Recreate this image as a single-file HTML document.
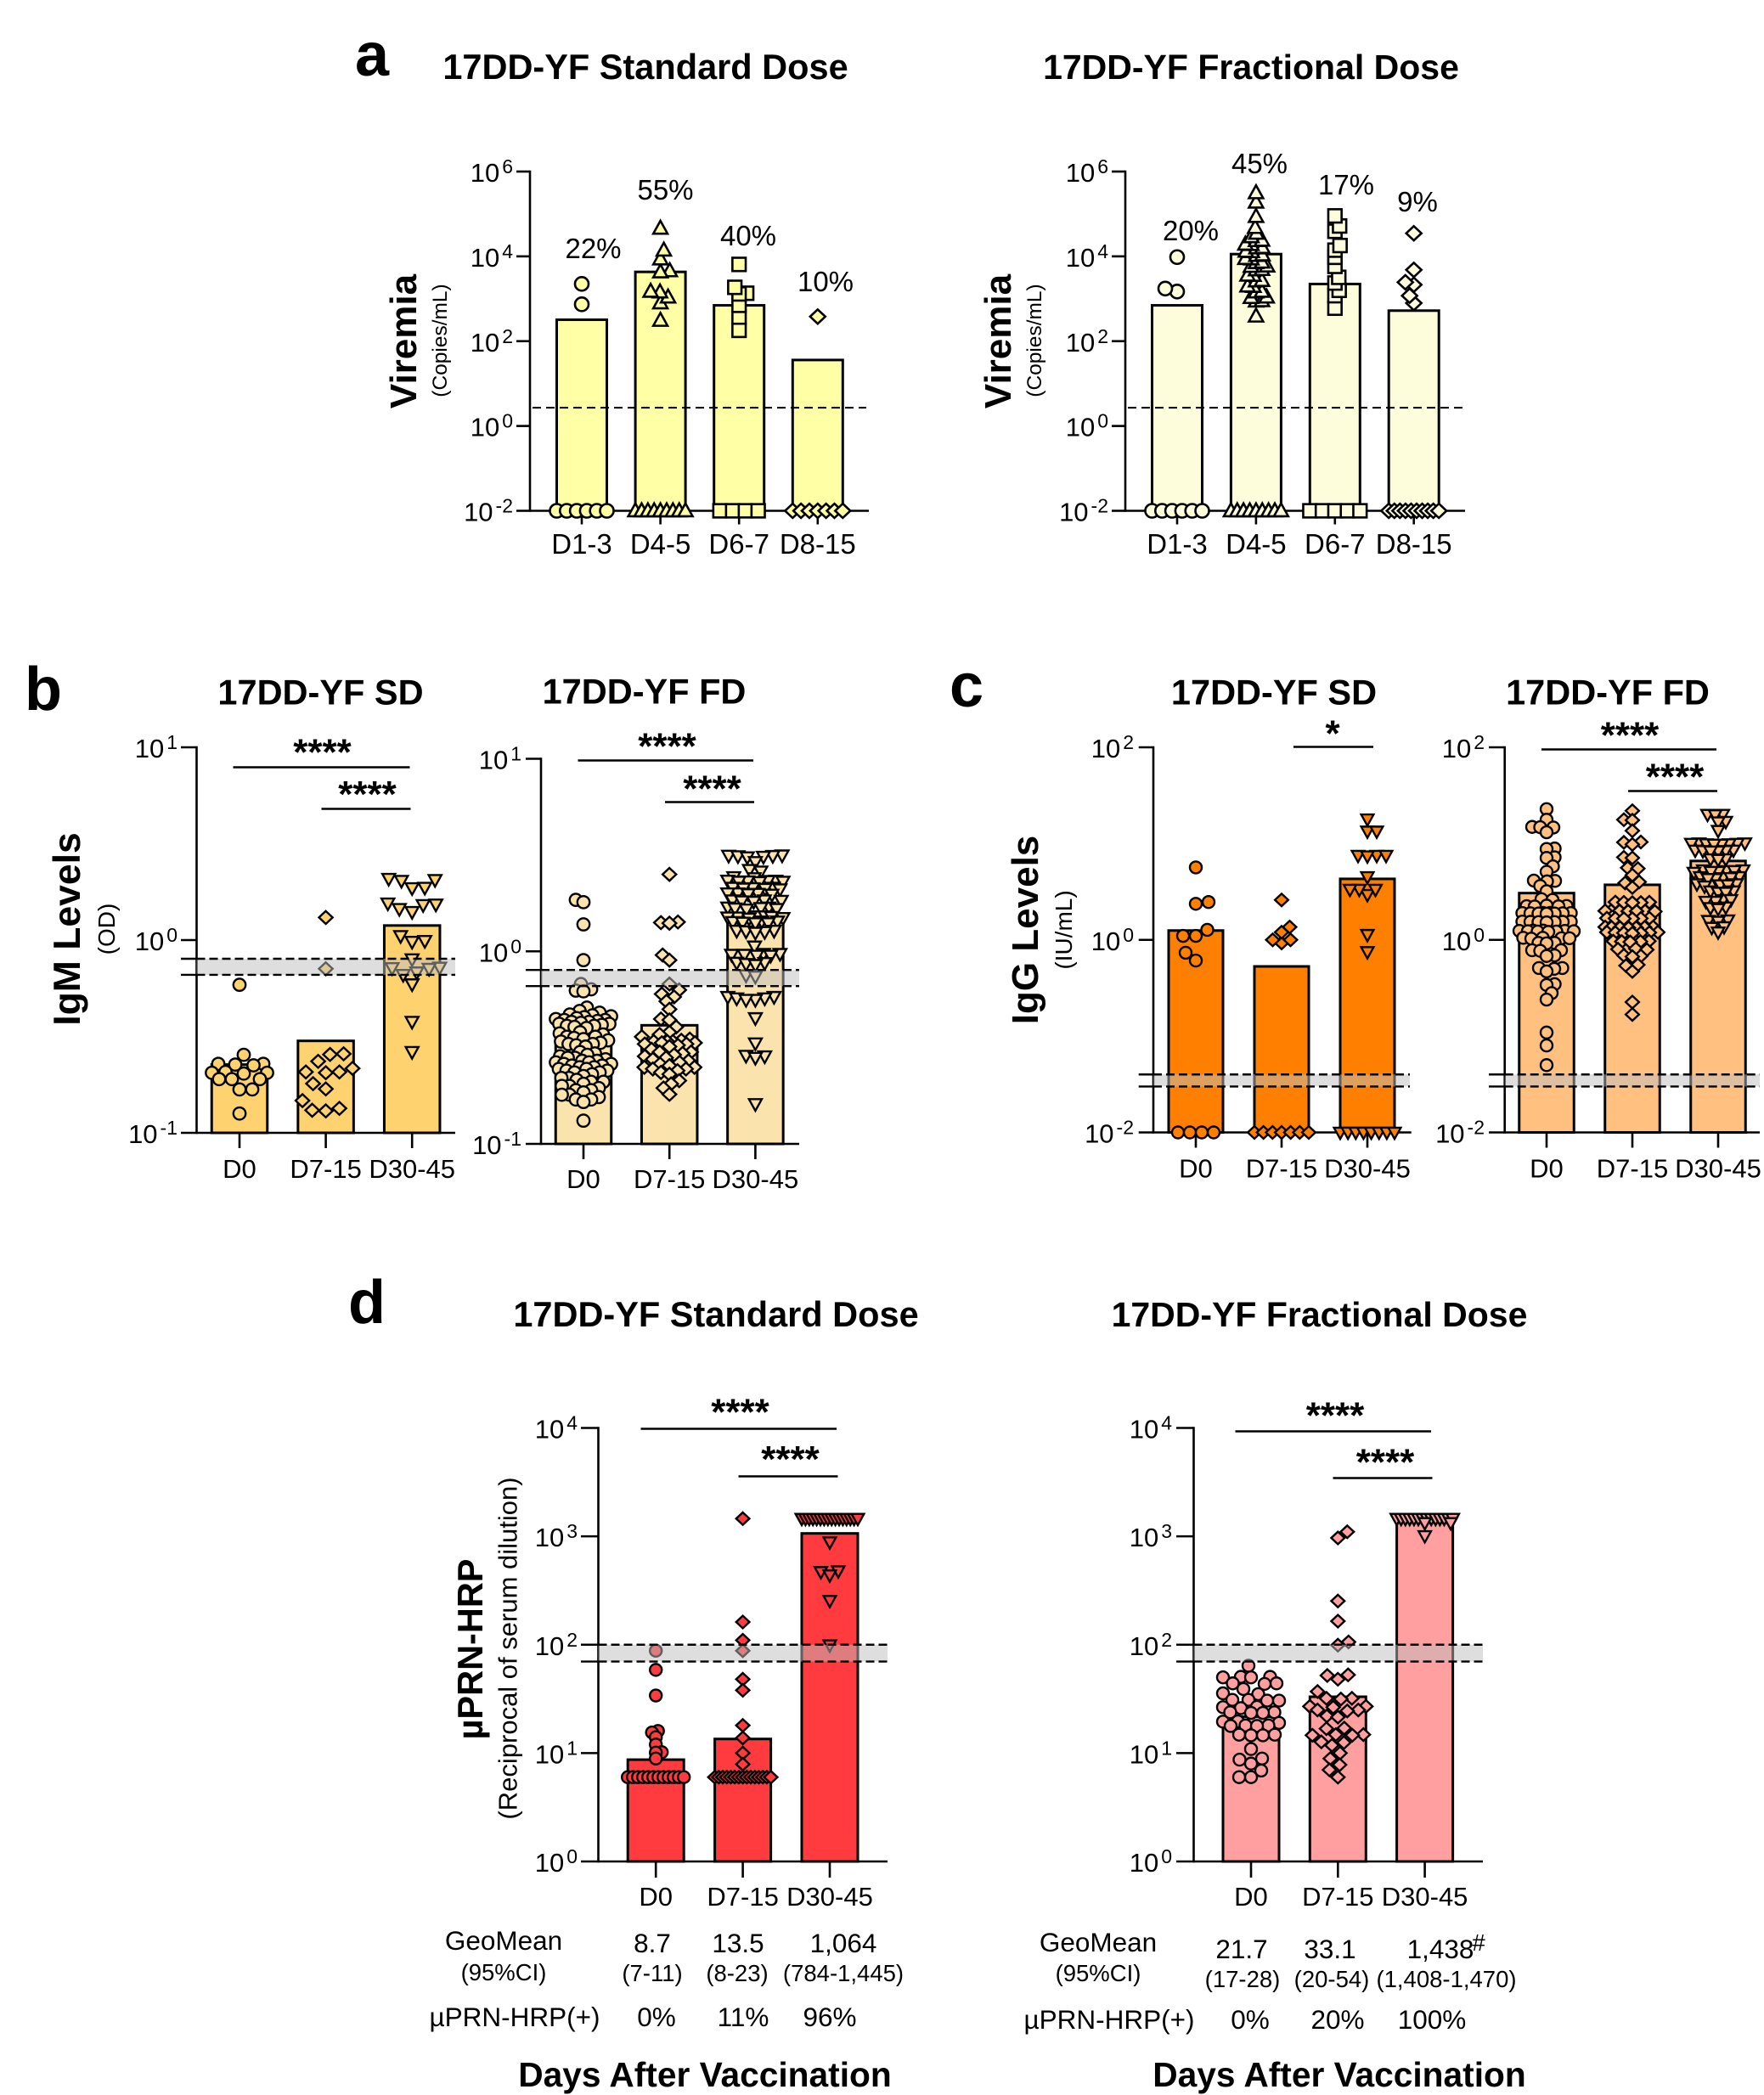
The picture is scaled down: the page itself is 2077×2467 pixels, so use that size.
<!DOCTYPE html>
<html lang="en">
<head>
<meta charset="utf-8">
<title>17DD-YF viremia and antibody responses</title>
<style>
html,body{margin:0;padding:0;background:#fff;}
svg{display:block;}
text{font-family:"Liberation Sans",Arial,sans-serif;fill:#000;}
.panel-letter{font-size:72px;font-weight:bold;}
.title{font-size:41.5px;font-weight:bold;text-anchor:middle;}
.title-f{font-size:41px;font-weight:bold;text-anchor:middle;}
.ylab{font-size:44.5px;font-weight:bold;text-anchor:middle;}
.ysub{font-size:28px;text-anchor:middle;}
.pct{font-size:33px;text-anchor:middle;}
.star{font-size:44px;font-weight:bold;text-anchor:middle;}
.tbl{font-size:31.5px;text-anchor:middle;}
.tbls{font-size:27.5px;text-anchor:middle;}
.days{font-size:40.7px;font-weight:bold;text-anchor:middle;}
.brk{stroke:#000;stroke-width:2.6;}
</style>
</head>
<body>
<svg id="figure" xmlns="http://www.w3.org/2000/svg" width="2077" height="2467" viewBox="0 0 2077 2467">
<rect width="2077" height="2467" fill="#fff"/>

<g id="layer-charts"></g>

<g>
<text class="panel-letter" x="418" y="89">a</text>
<text class="title" x="760" y="93">17DD-YF Standard Dose</text>
<text class="title-f" x="1473" y="93">17DD-YF Fractional Dose</text>
<text class="ylab" style="font-size:44px" transform="translate(490,402) rotate(-90)">Viremia</text>
<text class="ysub" style="font-size:24.5px" transform="translate(526,401) rotate(-90)">(Copies/mL)</text>
<text class="ylab" style="font-size:44px" transform="translate(1190,402) rotate(-90)">Viremia</text>
<text class="ysub" style="font-size:24.5px" transform="translate(1226,401) rotate(-90)">(Copies/mL)</text>
<text class="pct" x="698.5" y="304">22%</text>
<text class="pct" x="783.5" y="235">55%</text>
<text class="pct" x="881" y="289">40%</text>
<text class="pct" x="972" y="343">10%</text>
<text class="pct" x="1402" y="283">20%</text>
<text class="pct" x="1483" y="204">45%</text>
<text class="pct" x="1585" y="229">17%</text>
<text class="pct" x="1669" y="249">9%</text>
</g>

<g>
<text class="panel-letter" x="29" y="836">b</text>
<text class="title" x="377.5" y="829.5">17DD-YF SD</text>
<text class="title" x="758.5" y="828.5">17DD-YF FD</text>
<text class="ylab" transform="translate(94,1094) rotate(-90)">IgM Levels</text>
<text class="ysub" transform="translate(135,1094) rotate(-90)">(OD)</text>
<line class="brk" x1="274.5" x2="482.5" y1="903.5" y2="903.5"/>
<text class="star" x="379.5" y="900.5">****</text>
<line class="brk" x1="378.5" x2="483.5" y1="952.5" y2="952.5"/>
<text class="star" x="432.5" y="950">****</text>
<line class="brk" x1="680.5" x2="887" y1="895.5" y2="895.5"/>
<text class="star" x="785.5" y="893.5">****</text>
<line class="brk" x1="783" x2="888" y1="944.5" y2="944.5"/>
<text class="star" x="838.5" y="943.5">****</text>
</g>

<g>
<text class="panel-letter" x="1118" y="832">c</text>
<text class="title" x="1500" y="829.5">17DD-YF SD</text>
<text class="title" x="1893" y="829.5">17DD-YF FD</text>
<text class="ylab" style="font-size:44px" transform="translate(1222,1095) rotate(-90)">IgG Levels</text>
<text class="ysub" transform="translate(1262,1095) rotate(-90)">(IU/mL)</text>
<line class="brk" x1="1523" x2="1617" y1="879.5" y2="879.5"/>
<text class="star" x="1569" y="878.5">*</text>
<line class="brk" x1="1815" x2="2021" y1="882.5" y2="882.5"/>
<text class="star" x="1919" y="880.5">****</text>
<line class="brk" x1="1917" x2="2022" y1="931.5" y2="931.5"/>
<text class="star" x="1972" y="929.5">****</text>
</g>

<g>
<text class="panel-letter" x="410" y="1558">d</text>
<text class="title" x="843" y="1562">17DD-YF Standard Dose</text>
<text class="title-f" x="1553.5" y="1562">17DD-YF Fractional Dose</text>
<text class="ylab" style="font-size:41.5px" transform="translate(568,1942) rotate(-90)">µPRN-HRP</text>
<text class="ysub" style="font-size:31px" transform="translate(608.5,1941) rotate(-90)">(Reciprocal of serum dilution)</text>
<line class="brk" x1="754.5" x2="985" y1="1682.5" y2="1682.5"/>
<text class="star" x="871.5" y="1677.5">****</text>
<line class="brk" x1="869.5" x2="986.5" y1="1738.5" y2="1738.5"/>
<text class="star" x="930.5" y="1733">****</text>
<line class="brk" x1="1454.5" x2="1685" y1="1685.5" y2="1685.5"/>
<text class="star" x="1572" y="1681.5">****</text>
<line class="brk" x1="1569.5" x2="1686.5" y1="1740.5" y2="1740.5"/>
<text class="star" x="1631" y="1736.5">****</text>

<g>
<text class="tbl" x="593" y="2296">GeoMean</text>
<text class="tbls" x="593" y="2332">(95%CI)</text>
<text class="tbl" x="606" y="2386">µPRN-HRP(+)</text>
<text class="tbl" x="768" y="2299">8.7</text>
<text class="tbl" x="869" y="2299">13.5</text>
<text class="tbl" x="993" y="2299">1,064</text>
<text class="tbls" x="768" y="2333">(7-11)</text>
<text class="tbls" x="868" y="2333">(8-23)</text>
<text class="tbls" x="993" y="2333">(784-1,445)</text>
<text class="tbl" x="773" y="2386">0%</text>
<text class="tbl" x="875" y="2386">11%</text>
<text class="tbl" x="977" y="2386">96%</text>
<text class="days" x="830" y="2457">Days After Vaccination</text>
</g>
<g>
<text class="tbl" x="1293" y="2298">GeoMean</text>
<text class="tbls" x="1293" y="2333">(95%CI)</text>
<text class="tbl" x="1306" y="2389">µPRN-HRP(+)</text>
<text class="tbl" x="1462" y="2306">21.7</text>
<text class="tbl" x="1566" y="2306">33.1</text>
<text class="tbl" x="1696" y="2306">1,438</text>
<text class="tbls" x="1741" y="2297">#</text>
<text class="tbls" x="1463" y="2340">(17-28)</text>
<text class="tbls" x="1568" y="2340">(20-54)</text>
<text class="tbls" x="1703" y="2340">(1,408-1,470)</text>
<text class="tbl" x="1472" y="2389">0%</text>
<text class="tbl" x="1575" y="2389">20%</text>
<text class="tbl" x="1686" y="2389">100%</text>
<text class="days" x="1577" y="2457">Days After Vaccination</text>
</g>
</g>
</svg>

<script>
/* ---------- shared categories and tick labels ---------- */
const viremiaCategories = ['D1-3', 'D4-5', 'D6-7', 'D8-15'];
const antibodyCategories = ['D0', 'D7-15', 'D30-45'];
const viremiaTicks = [0.01, 1, 100, 10000, 1000000];
const igmTicks = [0.1, 1, 10];
const iggTicks = [0.01, 1, 100];
const prnTicks = [1, 10, 100, 1000, 10000];
const viremiaCutoff = [2.7];
const igmBand = [0.8, 0.66];
const iggBand = [0.04, 0.03];
const prnBand = [100, 70];

/* ---------- panel a, standard dose ---------- */
const viremiaSdBars = [320, 4300, 700, 36];
const viremiaSdD1 = [0.01, 0.01, 0.01, 0.01, 0.01, 0.01, 740, 2240];
const viremiaSdD4 = [0.01, 0.01, 0.01, 0.01, 0.01, 0.01, 0.01, 0.01, 0.01, 310, 800, 1100, 1450, 1500, 4570, 4300, 8700, 14000, 46000];
const viremiaSdD6 = [0.01, 0.01, 0.01, 0.01, 180, 370, 700, 1350, 1300, 1860, 6460];
const viremiaSdD8 = [0.01, 0.01, 0.01, 0.01, 0.01, 0.01, 0.01, 380];

/* ---------- panel a, fractional dose ---------- */
const viremiaFdBars = [700, 11300, 2230, 525];
const viremiaFdD1 = [0.01, 0.01, 0.01, 0.01, 0.01, 0.01, 1480, 1740, 9600];
const viremiaFdD4 = [0.01, 0.01, 0.01, 0.01, 0.01, 0.01, 0.01, 0.01, 0.01, 390, 880, 900, 1070, 1100, 1450, 1500, 1950, 2000, 2640, 2700, 3560, 3600, 4800, 4900, 5800, 5900, 7100, 7300, 8700, 8900, 10500, 10800, 12900, 13200, 15800, 16200, 19000, 19400, 23500, 24000, 29000, 35000, 48000, 87000, 190000, 316000];
const viremiaFdD6 = [0.01, 0.01, 0.01, 0.01, 0.01, 600, 1180, 1580, 2350, 3200, 5800, 9500, 14000, 18000, 39000, 52000, 90000];
const viremiaFdD8 = [0.01, 0.01, 0.01, 0.01, 0.01, 0.01, 0.01, 0.01, 0.01, 0.01, 790, 1180, 2140, 2450, 4800, 35000];

/* ---------- panel b, IgM ---------- */
const igmSdBars = [0.226, 0.30, 1.19];
const igmSdD0 = [0.586, 0.254, 0.228, 0.228, 0.226, 0.224, 0.207, 0.205, 0.205, 0.203, 0.19, 0.19, 0.19, 0.168, 0.168, 0.126];
const igmSdD7 = [1.31, 0.71, 0.257, 0.255, 0.235, 0.216, 0.207, 0.207, 0.205, 0.18, 0.169, 0.147, 0.134, 0.131, 0.13];
const igmSdD30 = [2.08, 2.05, 2.03, 1.87, 1.86, 1.55, 1.53, 1.52, 1.45, 1.40, 1.05, 0.99, 0.98, 0.795, 0.72, 0.716, 0.71, 0.68, 0.66, 0.59, 0.377, 0.263];

const igmFdBars = [0.359, 0.413, 1.455];
const igmFdD0 = [1.85, 1.8, 1.38, 0.90, 0.676, 0.635, 0.625, 0.62, 0.51, 0.49, 0.48, 0.47, 0.465, 0.46, 0.455, 0.45, 0.445, 0.44, 0.44, 0.435, 0.43, 0.43, 0.425, 0.42, 0.42, 0.415, 0.41, 0.41, 0.405, 0.40, 0.38, 0.375, 0.37, 0.36, 0.36, 0.355, 0.35, 0.345, 0.34, 0.335, 0.33, 0.33, 0.325, 0.32, 0.30, 0.295, 0.29, 0.285, 0.28, 0.28, 0.275, 0.27, 0.27, 0.265, 0.265, 0.26, 0.26, 0.255, 0.255, 0.25, 0.25, 0.245, 0.245, 0.24, 0.24, 0.235, 0.235, 0.23, 0.225, 0.22, 0.22, 0.215, 0.21, 0.21, 0.205, 0.20, 0.20, 0.195, 0.19, 0.19, 0.185, 0.18, 0.18, 0.175, 0.17, 0.17, 0.165, 0.132];
const igmFdD7 = [2.51, 1.42, 1.41, 1.40, 0.957, 0.9, 0.676, 0.63, 0.6, 0.58, 0.55, 0.5, 0.445, 0.44, 0.405, 0.38, 0.37, 0.36, 0.35, 0.345, 0.34, 0.34, 0.34, 0.335, 0.335, 0.33, 0.33, 0.325, 0.32, 0.31, 0.30, 0.30, 0.295, 0.29, 0.285, 0.28, 0.275, 0.27, 0.265, 0.26, 0.255, 0.25, 0.25, 0.245, 0.245, 0.24, 0.235, 0.23, 0.213, 0.205, 0.195, 0.181];
const igmFdD30 = [3.15, 3.14, 3.13, 3.12, 3.1, 3.08, 2.91, 2.65, 2.6, 2.43, 2.4, 2.33, 2.33, 2.32, 2.31, 2.3, 2.3, 2.29, 2.14, 2.14, 2.13, 2.12, 2.11, 2.1, 2.0, 2.0, 1.99, 1.98, 1.97, 1.84, 1.84, 1.83, 1.82, 1.81, 1.69, 1.69, 1.68, 1.67, 1.66, 1.65, 1.52, 1.52, 1.51, 1.5, 1.5, 1.49, 1.48, 1.43, 1.43, 1.42, 1.41, 1.4, 1.4, 1.28, 1.28, 1.27, 1.26, 1.25, 1.06, 0.97, 0.97, 0.96, 0.96, 0.95, 0.95, 0.873, 0.87, 0.86, 0.85, 0.75, 0.74, 0.58, 0.58, 0.57, 0.57, 0.56, 0.56, 0.45, 0.333, 0.287, 0.285, 0.28, 0.161];

/* ---------- panel c, IgG ---------- */
const iggSdBars = [1.25, 0.53, 4.3];
const iggSdD0 = [0.01, 0.01, 0.01, 0.01, 0.61, 0.735, 1.1, 1.1, 1.27, 2.37, 2.47, 5.66];
const iggSdD7 = [0.01, 0.01, 0.01, 0.01, 0.01, 0.01, 0.01, 0.93, 1.0, 1.0, 1.2, 1.36, 2.6];
const iggSdD30 = [0.01, 0.01, 0.01, 0.01, 0.01, 0.01, 0.01, 0.01, 0.75, 1.13, 2.94, 3.33, 3.33, 3.33, 4.5, 7.5, 7.5, 7.5, 7.4, 13.4, 13.4, 17.9];

const iggFdBars = [3.06, 3.73, 6.6];
const iggFdD0 = [22.8, 17.7, 14.9, 14.8, 14.7, 13.1, 8.9, 8.8, 7.2, 7.1, 5.8, 5.1, 4.13, 4.1, 4.05, 3.63, 3.2, 2.65, 2.6, 2.27, 2.25, 2.24, 2.23, 2.22, 1.91, 1.91, 1.9, 1.9, 1.89, 1.89, 1.88, 1.88, 1.87, 1.55, 1.55, 1.54, 1.54, 1.53, 1.53, 1.52, 1.25, 1.25, 1.24, 1.24, 1.23, 1.23, 1.22, 1.22, 1.21, 1.05, 1.05, 1.04, 1.04, 1.03, 0.93, 0.93, 0.92, 0.78, 0.78, 0.77, 0.69, 0.68, 0.51, 0.51, 0.5, 0.47, 0.347, 0.34, 0.28, 0.24, 0.109, 0.08, 0.05];
const iggFdD7 = [21.9, 17.7, 17.5, 13.6, 10.4, 10.3, 9.8, 7.2, 7.1, 5.6, 5.5, 4.7, 4.0, 3.9, 3.5, 2.47, 2.46, 2.45, 2.44, 2.43, 2.0, 2.0, 1.99, 1.99, 1.98, 1.98, 1.97, 1.68, 1.68, 1.67, 1.67, 1.66, 1.66, 1.36, 1.36, 1.35, 1.35, 1.34, 1.34, 1.33, 1.2, 1.2, 1.19, 1.19, 1.18, 1.18, 1.17, 0.97, 0.97, 0.96, 0.96, 0.95, 0.81, 0.8, 0.79, 0.69, 0.68, 0.67, 0.55, 0.54, 0.47, 0.226, 0.168];
const iggFdD30 = [20, 20, 19.8, 16.9, 16.7, 13.6, 10.1, 10.1, 10, 10, 9.9, 9.9, 9.8, 9.8, 8.5, 8.5, 8.4, 8.4, 8.3, 8.3, 6.9, 6.9, 6.8, 5.3, 5.3, 5.2, 5.2, 5.1, 5.1, 5.0, 4.5, 4.5, 4.4, 4.4, 4.3, 4.3, 3.8, 3.8, 3.7, 3.7, 3.6, 3.2, 3.2, 3.1, 3.1, 2.6, 2.6, 2.5, 2.5, 2.18, 2.15, 2.1, 1.6, 1.58, 1.55, 1.36, 1.34, 1.2];

/* ---------- panel d, uPRN-HRP ---------- */
const prnSdBars = [8.7, 13.5, 1064];
const prnSdD0 = [88, 58.6, 34, 16, 15.5, 14, 12, 10.2, 10.1, 8.9, 6, 6, 6, 6, 6, 6, 6, 6, 6, 6, 6, 6];
const prnSdD7 = [1456, 162, 110, 88, 48, 38, 18, 13.8, 10, 7.9, 6, 6, 6, 6, 6, 6, 6, 6, 6, 6, 6, 6, 6, 6, 6];
const prnSdD30 = [1456, 1456, 1456, 1456, 1456, 1456, 1456, 1456, 1456, 1456, 1456, 1456, 1456, 1456, 1456, 1456, 885, 478, 470, 438, 255, 99];

const prnFdBars = [21.7, 33.1, 1438];
const prnFdD0 = [64, 50.5, 50.5, 50, 50, 44, 44, 43.5, 39, 35.6, 35, 31, 31, 30.5, 30.5, 26.7, 26.5, 26, 23.8, 23.8, 23.5, 23.5, 19.6, 19.5, 19, 18, 18, 17.8, 17.8, 14.8, 14.8, 14.6, 14.6, 10.9, 8.9, 8.7, 8, 6.9, 6, 6];
const prnFdD7 = [1101, 966, 253, 165, 106, 99, 52.7, 52, 48, 37, 32, 32, 31.5, 27, 27, 26.5, 25, 25, 24.5, 22, 21.5, 17, 16.8, 14.8, 14.8, 14.6, 14.6, 12.7, 12.5, 11.8, 10, 8.9, 7.8, 7, 6];
const prnFdD30 = [1456, 1456, 1456, 1456, 1456, 1456, 1456, 1456, 1456, 1456, 1456, 1456, 1456, 1456, 1330, 1330, 1009];

/* ---------- drawing helpers ---------- */
const SVG_NS = 'http://www.w3.org/2000/svg';
const chartLayer = document.getElementById('layer-charts');

function make(parent, tag, attrs) {
  const el = document.createElementNS(SVG_NS, tag);
  for (const k in attrs) el.setAttribute(k, attrs[k]);
  parent.appendChild(el);
  return el;
}

function logScale(domainMin, domainMax, pxBottom, pxTop) {
  const lo = Math.log10(domainMin);
  const hi = Math.log10(domainMax);
  return function (v) {
    return pxBottom - (Math.log10(v) - lo) / (hi - lo) * (pxBottom - pxTop);
  };
}

/* Beeswarm layout: long rows of identical values are spread evenly, every
   other point takes the offset nearest the centre that keeps its distance. */
function swarmOffsets(vals, pys, gap, tieGap, maxW) {
  const out = new Array(vals.length).fill(null);
  const placed = [];
  const ties = new Map();
  vals.forEach(function (v, i) {
    if (!ties.has(v)) ties.set(v, []);
    ties.get(v).push(i);
  });
  ties.forEach(function (row) {
    if (row.length < 4) return;
    const n = row.length;
    const s = Math.min(tieGap, maxW / (n - 1));
    row.forEach(function (idx, j) {
      out[idx] = (j - (n - 1) / 2) * s;
      placed.push([out[idx], pys[idx]]);
    });
  });
  const order = vals.map(function (v, i) { return i; })
    .filter(function (i) { return out[i] === null; })
    .sort(function (a, b) { return pys[b] - pys[a]; });
  order.forEach(function (idx, turn) {
    const sign = turn % 2 === 0 ? 1 : -1;
    let best = 0;
    let bestDist = -1;
    let chosen = null;
    for (let k = 0; k <= maxW / 2 && chosen === null; k += 0.5) {
      [sign * k, -sign * k].forEach(function (off) {
        if (chosen !== null) return;
        let minD = Infinity;
        placed.forEach(function (p) {
          const d = Math.hypot(p[0] - off, p[1] - pys[idx]);
          if (d < minD) minD = d;
        });
        if (minD >= gap) chosen = off;
        else if (minD > bestDist) { bestDist = minD; best = off; }
      });
    }
    out[idx] = chosen !== null ? chosen : best;
    placed.push([out[idx], pys[idx]]);
  });
  return out;
}

function drawMarker(parent, shape, cx, cy, r, fill, sw) {
  const style = { fill: fill, stroke: '#000', 'stroke-width': sw, 'stroke-linejoin': 'miter' };
  let el;
  if (shape === 'circle') {
    el = make(parent, 'circle', Object.assign({ cx: cx, cy: cy, r: r }, style));
  } else if (shape === 'square') {
    const h = r * 0.98;
    el = make(parent, 'rect', Object.assign({ x: cx - h, y: cy - h, width: 2 * h, height: 2 * h }, style));
  } else {
    let pts;
    if (shape === 'diamond') {
      pts = [[cx, cy - r * 1.05], [cx + r * 1.12, cy], [cx, cy + r * 1.05], [cx - r * 1.12, cy]];
    } else if (shape === 'up') {
      pts = [[cx, cy - r * 1.1], [cx + r * 1.05, cy + r * 0.8], [cx - r * 1.05, cy + r * 0.8]];
    } else {
      pts = [[cx, cy + r * 1.1], [cx + r * 1.05, cy - r * 0.8], [cx - r * 1.05, cy - r * 0.8]];
    }
    el = make(parent, 'polygon', Object.assign({ points: pts.map(function (p) { return p.join(','); }).join(' ') }, style));
  }
  return el;
}

function drawPanel(cfg, categories, ticks, bars, groups) {
  const g = make(chartLayer, 'g', {});
  
  

  const y = logScale(ticks[0], ticks[ticks.length - 1], cfg.yBot, cfg.yTop);
  const x = function (i) { return cfg.c0 + i * cfg.step; };

  /* bars */
  bars.forEach(function (v, i) {
    const top = y(v);
    const bar = make(g, 'rect', {
      x: x(i) - cfg.barW / 2, y: top, width: cfg.barW, height: cfg.yBot - top,
      fill: cfg.fill, stroke: '#000', 'stroke-width': 3
    });
    
    
  });

  /* y axis and ticks */
  const yAxis = make(g, 'line', { x1: cfg.axisX, x2: cfg.axisX, y1: cfg.yTop - 1.3, y2: cfg.yBot + 1.3, stroke: '#000', 'stroke-width': 2.6 });
  
  
  ticks.forEach(function (t) {
    const py = y(t);
    const tick = make(g, 'line', { x1: cfg.tickL, x2: cfg.axisX, y1: py, y2: py, stroke: '#000', 'stroke-width': 2.6 });
    
    
    const label = make(g, 'text', { x: cfg.tickLabelR, y: py + 12, 'text-anchor': 'end', 'font-size': 31 });
    
    
    const base = make(label, 'tspan', {});
    base.textContent = '10';
    const sup = make(label, 'tspan', { dx: 3, dy: -10, 'font-size': 23 });
    sup.textContent = String(Math.round(Math.log10(t)));
  });

  /* x axis, ticks, labels */
  const xAxis = make(g, 'line', { x1: cfg.axisX, x2: cfg.xEnd, y1: cfg.yBot, y2: cfg.yBot, stroke: '#000', 'stroke-width': 2.6 });
  
  
  categories.forEach(function (c, i) {
    const tick = make(g, 'line', { x1: x(i), x2: x(i), y1: cfg.yBot, y2: cfg.yBot + cfg.tickH, stroke: '#000', 'stroke-width': 2.6 });
    
    
    const label = make(g, 'text', { x: x(i), y: cfg.catY, 'text-anchor': 'middle', 'font-size': cfg.catSize });
    
    
    label.textContent = c;
  });

  /* points */
  groups.forEach(function (vals, i) {
    const pys = vals.map(y);
    const offs = swarmOffsets(vals, pys, cfg.gaps[i], cfg.tieGap, cfg.barW);
    const shape = cfg.shapes[i];
    vals.forEach(function (v, j) {
      const m = drawMarker(g, shape, x(i) + offs[j], pys[j], cfg.r, cfg.fill, cfg.sw);
      
      
    });
  });

  /* single dashed detection limit */
  if (cfg.cutoff) {
    const py = y(cfg.cutoff[0]);
    const limit = make(g, 'line', { x1: cfg.axisX + 3, x2: cfg.xEnd - 3, y1: py, y2: py, stroke: '#000', 'stroke-width': 2, 'stroke-dasharray': '10 6' });
    
    
  }

  /* shaded seropositivity band */
  if (cfg.band) {
    const yHi = y(cfg.band[0]);
    const yLo = y(cfg.band[1]);
    const band = make(g, 'rect', { x: cfg.axisX, y: yHi, width: cfg.bandEnd - cfg.axisX, height: yLo - yHi, fill: 'rgb(190,190,190)', 'fill-opacity': 0.5 });
    
    
    [yHi, yLo].forEach(function (py) {
      const dash = make(g, 'line', { x1: cfg.axisX, x2: cfg.bandEnd, y1: py, y2: py, stroke: '#000', 'stroke-width': 2.4, 'stroke-dasharray': '10 5' });
      
      
      const stub = make(g, 'line', { x1: cfg.tickL, x2: cfg.axisX, y1: py, y2: py, stroke: '#000', 'stroke-width': 2.4 });
      
      
    });
  }
}

/* ---------- panels ---------- */
const vShapes = ['circle', 'up', 'square', 'diamond'];
const abShapes = ['circle', 'diamond', 'down'];

drawPanel({ axisX: 624, tickL: 608, tickLabelR: 604, xEnd: 1023, yTop: 202, yBot: 601.5, c0: 685, step: 92.6, barW: 59, tickH: 16, catY: 652, catSize: 33, fill: '#FFFFA6', shapes: vShapes, r: 8, sw: 2.6, gaps: [14, 11, 9, 14], tieGap: 15 , cutoff: viremiaCutoff }, viremiaCategories, viremiaTicks, viremiaSdBars, [viremiaSdD1, viremiaSdD4, viremiaSdD6, viremiaSdD8]);

drawPanel({ axisX: 1325, tickL: 1309, tickLabelR: 1305, xEnd: 1725, yTop: 202, yBot: 601.5, c0: 1386, step: 92.9, barW: 59, tickH: 16, catY: 652, catSize: 33, fill: '#FDFDDC', shapes: vShapes, r: 8, sw: 2.6, gaps: [14, 7, 8, 10], tieGap: 15, cutoff: viremiaCutoff }, viremiaCategories, viremiaTicks, viremiaFdBars, [viremiaFdD1, viremiaFdD4, viremiaFdD6, viremiaFdD8]);

drawPanel({ axisX: 231.5, tickL: 213, tickLabelR: 209, xEnd: 536, bandEnd: 536, yTop: 880, yBot: 1334, c0: 282, step: 101.6, barW: 65.5, tickH: 18, catY: 1387, catSize: 31, fill: '#FFD270', shapes: abShapes, r: 7.2, sw: 2.4, gaps: [15, 16, 15], tieGap: 14, band: igmBand }, antibodyCategories, igmTicks, igmSdBars, [igmSdD0, igmSdD7, igmSdD30]);

drawPanel({ axisX: 637, tickL: 619, tickLabelR: 614, xEnd: 941, bandEnd: 941, yTop: 893.5, yBot: 1347, c0: 687, step: 101.2, barW: 65.5, tickH: 18, catY: 1399, catSize: 31, fill: '#FBE3AE', shapes: abShapes, r: 7.2, sw: 2.4, gaps: [9, 10, 11], tieGap: 14, band: igmBand }, antibodyCategories, igmTicks, igmFdBars, [igmFdD0, igmFdD7, igmFdD30]);

drawPanel({ axisX: 1358, tickL: 1340.7, tickLabelR: 1335, xEnd: 1661.7, bandEnd: 1660, yTop: 880, yBot: 1333.5, c0: 1408, step: 101, barW: 64, tickH: 18, catY: 1386.5, catSize: 31, fill: '#FF8000', shapes: abShapes, r: 7, sw: 2.4, gaps: [15, 11, 11], tieGap: 14, band: iggBand }, antibodyCategories, iggTicks, iggSdBars, [iggSdD0, iggSdD7, iggSdD30]);

drawPanel({ axisX: 1771.7, tickL: 1753, tickLabelR: 1748, xEnd: 2072, bandEnd: 2072, yTop: 880, yBot: 1333.5, c0: 1821, step: 101, barW: 64.5, tickH: 18, catY: 1386.5, catSize: 31, fill: '#FFC080', shapes: abShapes, r: 7, sw: 2.4, gaps: [9.5, 10, 9], tieGap: 14, band: iggBand }, antibodyCategories, iggTicks, iggFdBars, [iggFdD0, iggFdD7, iggFdD30]);

drawPanel({ axisX: 704.5, tickL: 684, tickLabelR: 680, xEnd: 1045, bandEnd: 1045, yTop: 1681.5, yBot: 2192, c0: 772.2, step: 102.4, barW: 66, tickH: 19, catY: 2244, catSize: 31, fill: '#FF3B3F', shapes: abShapes, r: 7, sw: 2.4, gaps: [7, 12, 11], tieGap: 14, band: prnBand }, antibodyCategories, prnTicks, prnSdBars, [prnSdD0, prnSdD7, prnSdD30]);

drawPanel({ axisX: 1405.5, tickL: 1385, tickLabelR: 1380, xEnd: 1746, bandEnd: 1746, yTop: 1681.5, yBot: 2192, c0: 1473, step: 102.3, barW: 66, tickH: 19, catY: 2244, catSize: 31, fill: '#FF9FA0', shapes: abShapes, r: 7, sw: 2.4, gaps: [14, 13, 11], tieGap: 14, band: prnBand }, antibodyCategories, prnTicks, prnFdBars, [prnFdD0, prnFdD7, prnFdD30]);
</script>
</body>
</html>
